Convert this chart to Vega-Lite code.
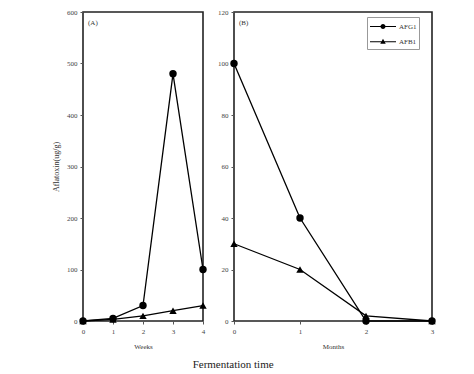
{
  "$schema": "https://vega.github.io/schema/vega-lite/v6.json",
  "background": "white",
  "padding": {"left": 51, "top": 7, "right": 40, "bottom": 5},
  "datasets": {
    "weeks": [
      {"t": 0, "series": "AFG1", "value": 0},
      {"t": 1, "series": "AFG1", "value": 5},
      {"t": 2, "series": "AFG1", "value": 30},
      {"t": 3, "series": "AFG1", "value": 480},
      {"t": 4, "series": "AFG1", "value": 100},
      {"t": 0, "series": "AFB1", "value": 0},
      {"t": 1, "series": "AFB1", "value": 3},
      {"t": 2, "series": "AFB1", "value": 10},
      {"t": 3, "series": "AFB1", "value": 20},
      {"t": 4, "series": "AFB1", "value": 30}
    ],
    "months": [
      {"t": 0, "series": "AFG1", "value": 100},
      {"t": 1, "series": "AFG1", "value": 40},
      {"t": 2, "series": "AFG1", "value": 0},
      {"t": 3, "series": "AFG1", "value": 0},
      {"t": 0, "series": "AFB1", "value": 30},
      {"t": 1, "series": "AFB1", "value": 20},
      {"t": 2, "series": "AFB1", "value": 2},
      {"t": 3, "series": "AFB1", "value": 0}
    ]
  },
  "title": {"text": "Fermentation time", "orient": "bottom", "anchor": "middle", "font": "Liberation Serif", "fontSize": 11, "fontWeight": "normal", "color": "#222", "offset": 9, "dx": -11},
  "hconcat": [
    {
      "width": 120,
      "height": 309,
      "data": {"name": "weeks"},
      "layer": [
        {
          "mark": {"type": "line", "color": "black", "strokeWidth": 1.3},
          "encoding": {
            "x": {"field": "t", "type": "quantitative", "scale": {"domain": [0, 4], "nice": false}, "axis": {"values": [0, 1, 2, 3, 4], "tickCount": 5, "labelOverlap": false, "format": "d", "title": "Weeks"}},
            "y": {"field": "value", "type": "quantitative", "scale": {"domain": [0, 600], "nice": false}, "axis": {"values": [0, 100, 200, 300, 400, 500, 600], "format": "d", "title": "Aflatoxin(ug/g)"}},
            "detail": {"field": "series"}
          }
        },
        {
          "mark": {"type": "point", "filled": true, "color": "black", "size": 55, "opacity": 1},
          "encoding": {
            "x": {"field": "t", "type": "quantitative"},
            "y": {"field": "value", "type": "quantitative"},
            "shape": {"field": "series", "type": "nominal", "scale": {"domain": ["AFG1", "AFB1"], "range": ["circle", "triangle-up"]}, "legend": null}
          }
        },
        {
          "data": {"values": [{"label": "(A)"}]},
          "mark": {"type": "text", "align": "left", "baseline": "top", "dx": 5, "dy": 7, "font": "Liberation Serif", "fontSize": 7, "color": "#333"},
          "encoding": {
            "x": {"datum": 0, "type": "quantitative"},
            "y": {"datum": 600, "type": "quantitative"},
            "text": {"field": "label"}
          }
        }
      ]
    },
    {
      "width": 198,
      "height": 309,
      "data": {"name": "months"},
      "resolve": {"scale": {"shape": "independent"}, "legend": {"shape": "independent"}},
      "layer": [
        {
          "mark": {"type": "line", "color": "black", "strokeWidth": 1.3},
          "encoding": {
            "x": {"field": "t", "type": "quantitative", "scale": {"domain": [0, 3], "nice": false}, "axis": {"values": [0, 1, 2, 3], "labelOverlap": false, "format": "d", "title": "Months"}},
            "y": {"field": "value", "type": "quantitative", "scale": {"domain": [0, 120], "nice": false}, "axis": {"values": [0, 20, 40, 60, 80, 100, 120], "format": "d", "title": null}},
            "detail": {"field": "series"}
          }
        },
        {
          "mark": {"type": "point", "filled": true, "color": "black", "size": 55, "opacity": 1},
          "encoding": {
            "x": {"field": "t", "type": "quantitative"},
            "y": {"field": "value", "type": "quantitative"},
            "shape": {"field": "series", "type": "nominal", "scale": {"domain": ["AFG1", "AFB1"], "range": ["circle", "triangle-up"]}, "legend": null}
          }
        },
        {
          "transform": [{"filter": "false"}],
          "mark": {"type": "point", "filled": true, "color": "black", "opacity": 1},
          "encoding": {
            "x": {"field": "t", "type": "quantitative"},
            "y": {"field": "value", "type": "quantitative"},
            "shape": {
              "field": "series", "type": "nominal",
              "scale": {"domain": ["AFG1", "AFB1"], "range": ["M-1,-0.08H3V0.08H-1ZM1.385,0A0.385,0.385 0 1,1 0.615,0A0.385,0.385 0 1,1 1.385,0Z", "M-1,-0.02H3V0.13H-1ZM1,-0.42L1.42,0.33L0.58,0.33Z"]},
              "legend": {"title": null, "orient": "none", "legendX": 133, "legendY": 5, "strokeColor": "#999", "fillColor": "white", "padding": 2, "symbolSize": 169, "symbolFillColor": "black", "symbolOpacity": 1, "labelFont": "Liberation Serif", "labelFontSize": 7, "labelColor": "#333", "labelOffset": 15, "rowPadding": 1}
            }
          }
        },
        {
          "data": {"values": [{"label": "(B)"}]},
          "mark": {"type": "text", "align": "left", "baseline": "top", "dx": 5, "dy": 7, "font": "Liberation Serif", "fontSize": 7, "color": "#333"},
          "encoding": {
            "x": {"datum": 0, "type": "quantitative"},
            "y": {"datum": 120, "type": "quantitative"},
            "text": {"field": "label"}
          }
        }
      ]
    }
  ],
  "spacing": 31,
  "bounds": "flush",
  "config": {
    "view": {"stroke": "#222", "strokeWidth": 1.6},
    "axis": {
      "domain": false,
      "grid": false,
      "tickSize": 3,
      "tickColor": "#555",
      "labelFont": "Liberation Serif",
      "labelFontSize": 7,
      "labelColor": "#444",
      "labelPadding": 3,
      "labelFlush": false,
      "labelOverlap": false,
      "titleFont": "Liberation Serif",
      "titleFontSize": 7,
      "titleFontWeight": "normal",
      "titleColor": "#333"
    },
    "axisX": {"titlePadding": 8},
    "axisY": {"titleFontSize": 8, "titlePadding": 6}
  }
}
